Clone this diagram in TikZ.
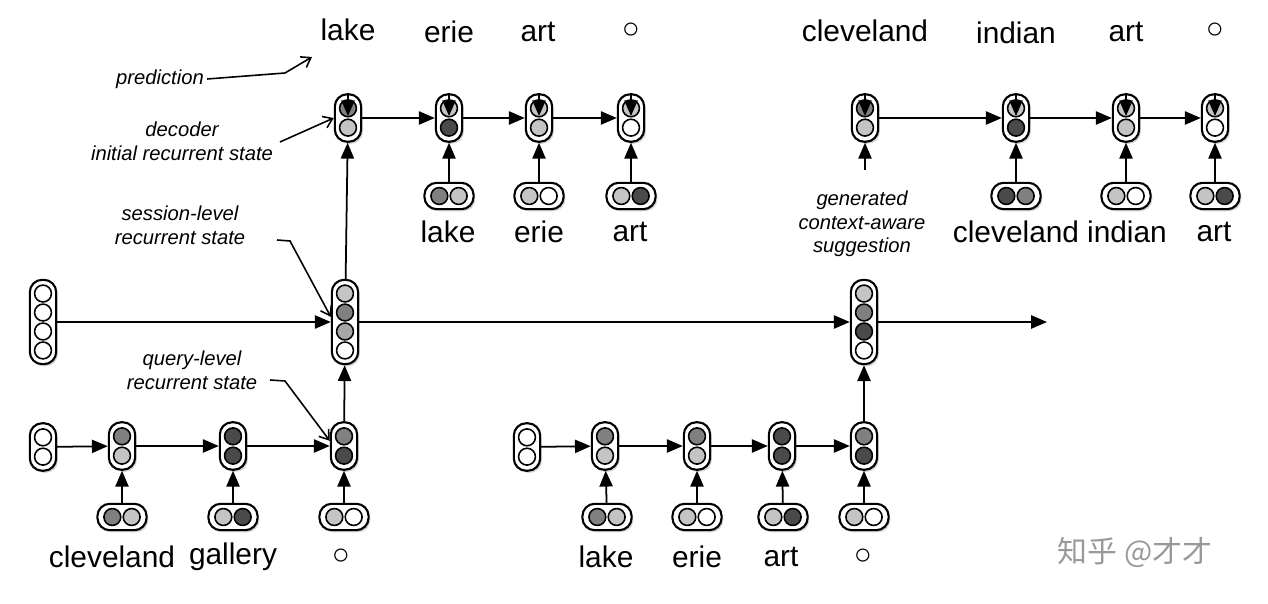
\documentclass[tikz,border=0pt]{standalone}
\usepackage{fontspec}
\setmainfont{Liberation Sans}
\newfontfamily\cjk{Noto Sans CJK SC}
\usetikzlibrary{arrows.meta,shadows}
\definecolor{cD}{HTML}{4A4A4A}
\definecolor{cM}{HTML}{808080}
\definecolor{cL}{HTML}{C4C4C4}
\definecolor{cW}{HTML}{FFFFFF}
\tikzset{
  box/.style={draw,line width=1.2pt,fill=white,rounded corners=7pt,inner sep=0pt,
    drop shadow={opacity=0.35,shadow xshift=1pt,shadow yshift=-1.2pt}},
  dot/.style={draw,line width=0.9pt,circle,minimum size=9.6pt,inner sep=0pt},
  ar/.style={line width=1pt,-{Triangle[length=9pt,width=7.5pt]}},
  ann/.style={line width=0.9pt,-{Straight Barb[length=5pt,width=7pt]}},
  word/.style={font=\fontsize{17}{20}\selectfont,inner sep=0pt},
  note/.style={font=\fontsize{11.5}{13.5}\selectfont\itshape,align=center,inner sep=0pt},
}
\newcommand\vtwo[4]{\node[box,minimum width=15pt,minimum height=27pt] (#1) at (#2) {};
  \node[dot,fill=#3] at ([yshift=5.5pt]#1.center) {};
  \node[dot,fill=#4] at ([yshift=-5.5pt]#1.center) {};}
\newcommand\vfour[6]{\node[box,minimum width=15pt,minimum height=48pt] (#1) at (#2) {};
  \node[dot,fill=#3] at ([yshift=16.2pt]#1.center) {};
  \node[dot,fill=#4] at ([yshift=5.4pt]#1.center) {};
  \node[dot,fill=#5] at ([yshift=-5.4pt]#1.center) {};
  \node[dot,fill=#6] at ([yshift=-16.2pt]#1.center) {};}
\newcommand\htwo[4]{\node[box,minimum width=28pt,minimum height=15pt] (#1) at (#2) {};
  \node[dot,fill=#3] at ([xshift=-5.5pt]#1.center) {};
  \node[dot,fill=#4] at ([xshift=5.5pt]#1.center) {};}
\begin{document}
\begin{tikzpicture}[x=0.02cm,y=-0.02cm]
\useasboundingbox (0,0) rectangle (1268,604);
% query encoder 1
\vtwo{qa0}{43,447}{cW}{cW}
\vtwo{qa1}{122,446}{cM}{cL}
\vtwo{qa2}{233,446}{cD}{cD}
\vtwo{qa3}{344,446}{cM}{cD}
\htwo{ia1}{122,517}{cM}{cL}
\htwo{ia2}{233,517}{cL}{cD}
\htwo{ia3}{344,517}{cL}{cW}
\node[word] (la1) at (112,557) {cleveland};
\node[word] (la2) at (233,557) {gallery};
\node[word] (la3) at (341,557) {○};
% session
\vfour{s0}{43,322}{cW}{cW}{cW}{cW}
\vfour{s1}{345,322}{cL}{cM}{cM!70!white}{cW}
\vfour{s2}{864,322}{cL}{cM}{cD}{cW}
\coordinate (send) at (1047,322);
% query encoder 2
\vtwo{qb0}{527,447}{cW}{cW}
\vtwo{qb1}{605,446}{cM}{cL}
\vtwo{qb2}{697,446}{cM}{cL}
\vtwo{qb3}{782,446}{cD}{cD}
\vtwo{qb4}{864,446}{cM}{cD}
\htwo{ib1}{607,517}{cM}{cL}
\htwo{ib2}{697,517}{cL}{cW}
\htwo{ib3}{783,517}{cL}{cD}
\htwo{ib4}{864,517}{cL}{cW}
\node[word] at (606,557) {lake};
\node[word] at (697,557) {erie};
\node[word] at (781,557) {art};
\node[word] at (863,557) {○};
% decoder 1
\vtwo{da1}{348,118}{cM}{cL}
\vtwo{da2}{449,118}{cL}{cD}
\vtwo{da3}{539,118}{cL}{cL}
\vtwo{da4}{631,118}{cL}{cW}
\htwo{ja2}{449,196}{cM}{cL}
\htwo{ja3}{539,196}{cL}{cW}
\htwo{ja4}{631,196}{cL}{cD}
\node[word] at (448,232) {lake};
\node[word] at (539,232) {erie};
\node[word] at (630,232) {art};
\node[word] (oa1) at (348,30) {lake};
\node[word] (oa2) at (449,32) {erie};
\node[word] (oa3) at (538,32) {art};
\node[word] (oa4) at (631,31) {○};
% decoder 2
\vtwo{db1}{865,118}{cM}{cL}
\vtwo{db2}{1016,118}{cL}{cD}
\vtwo{db3}{1126,118}{cL}{cL}
\vtwo{db4}{1215,118}{cL}{cW}
\htwo{jb2}{1016,196}{cD}{cM}
\htwo{jb3}{1126,196}{cL}{cW}
\htwo{jb4}{1215,196}{cL}{cD}
\node[word] at (1016,232) {cleveland};
\node[word] at (1127,232) {indian};
\node[word] at (1214,232) {art};
\node[word] (ob1) at (865,31) {cleveland};
\node[word] (ob2) at (1016,33) {indian};
\node[word] (ob3) at (1126,32) {art};
\node[word] (ob4) at (1215,31) {○};
\coordinate (gsrc) at (865,170);
% arrows
\foreach \a/\b in {qa0/qa1,qa1/qa2,qa2/qa3,qb0/qb1,qb1/qb2,qb2/qb3,qb3/qb4,
  da1/da2,da2/da3,da3/da4,db1/db2,db2/db3,db3/db4,s0/s1,s1/s2,
  ia1/qa1,ia2/qa2,ia3/qa3,ib1/qb1,ib2/qb2,ib3/qb3,ib4/qb4,
  ja2/da2,ja3/da3,ja4/da4,jb2/db2,jb3/db3,jb4/db4,qa3/s1,qb4/s2,s1/da1}
  \draw[ar] (\a) -- (\b);
\draw[ar] (s2) -- (send);
\draw[ar] (gsrc) -- (db1);
\foreach \c/\o in {da1/oa1,da2/oa2,da3/oa3,da4/oa4,db1/ob1,db2/ob2,db3/ob3,db4/ob4}
  \draw[ar] (\c.north) -- ([yshift=-13pt]\c.north);
% annotations
\node[note] (n1) at (160,79) {prediction};
\node[note] (n2) at (182,141) {decoder\\initial recurrent state};
\node[note] (n3) at (180,225) {session-level\\recurrent state};
\node[note] (n4) at (192,370) {query-level\\recurrent state};
\node[note] (n5) at (862,224) {generated\\context-aware\\suggestion};
\coordinate (p1) at (312,57);
\draw[ann] (n1.east) ++(3,0) -- (285,73) -- (p1);
\draw[ann] (280,142) -- (da1.west);
\draw[ann] (277,240) -- (290,241) -- (s1.160);
\draw[ann] (270,380) -- (285,381) -- (qa3.160);
\node[font=\cjk\fontsize{17}{20}\selectfont,text=gray!80] at (1135,553) {知乎 @才才};
\end{tikzpicture}
\end{document}
